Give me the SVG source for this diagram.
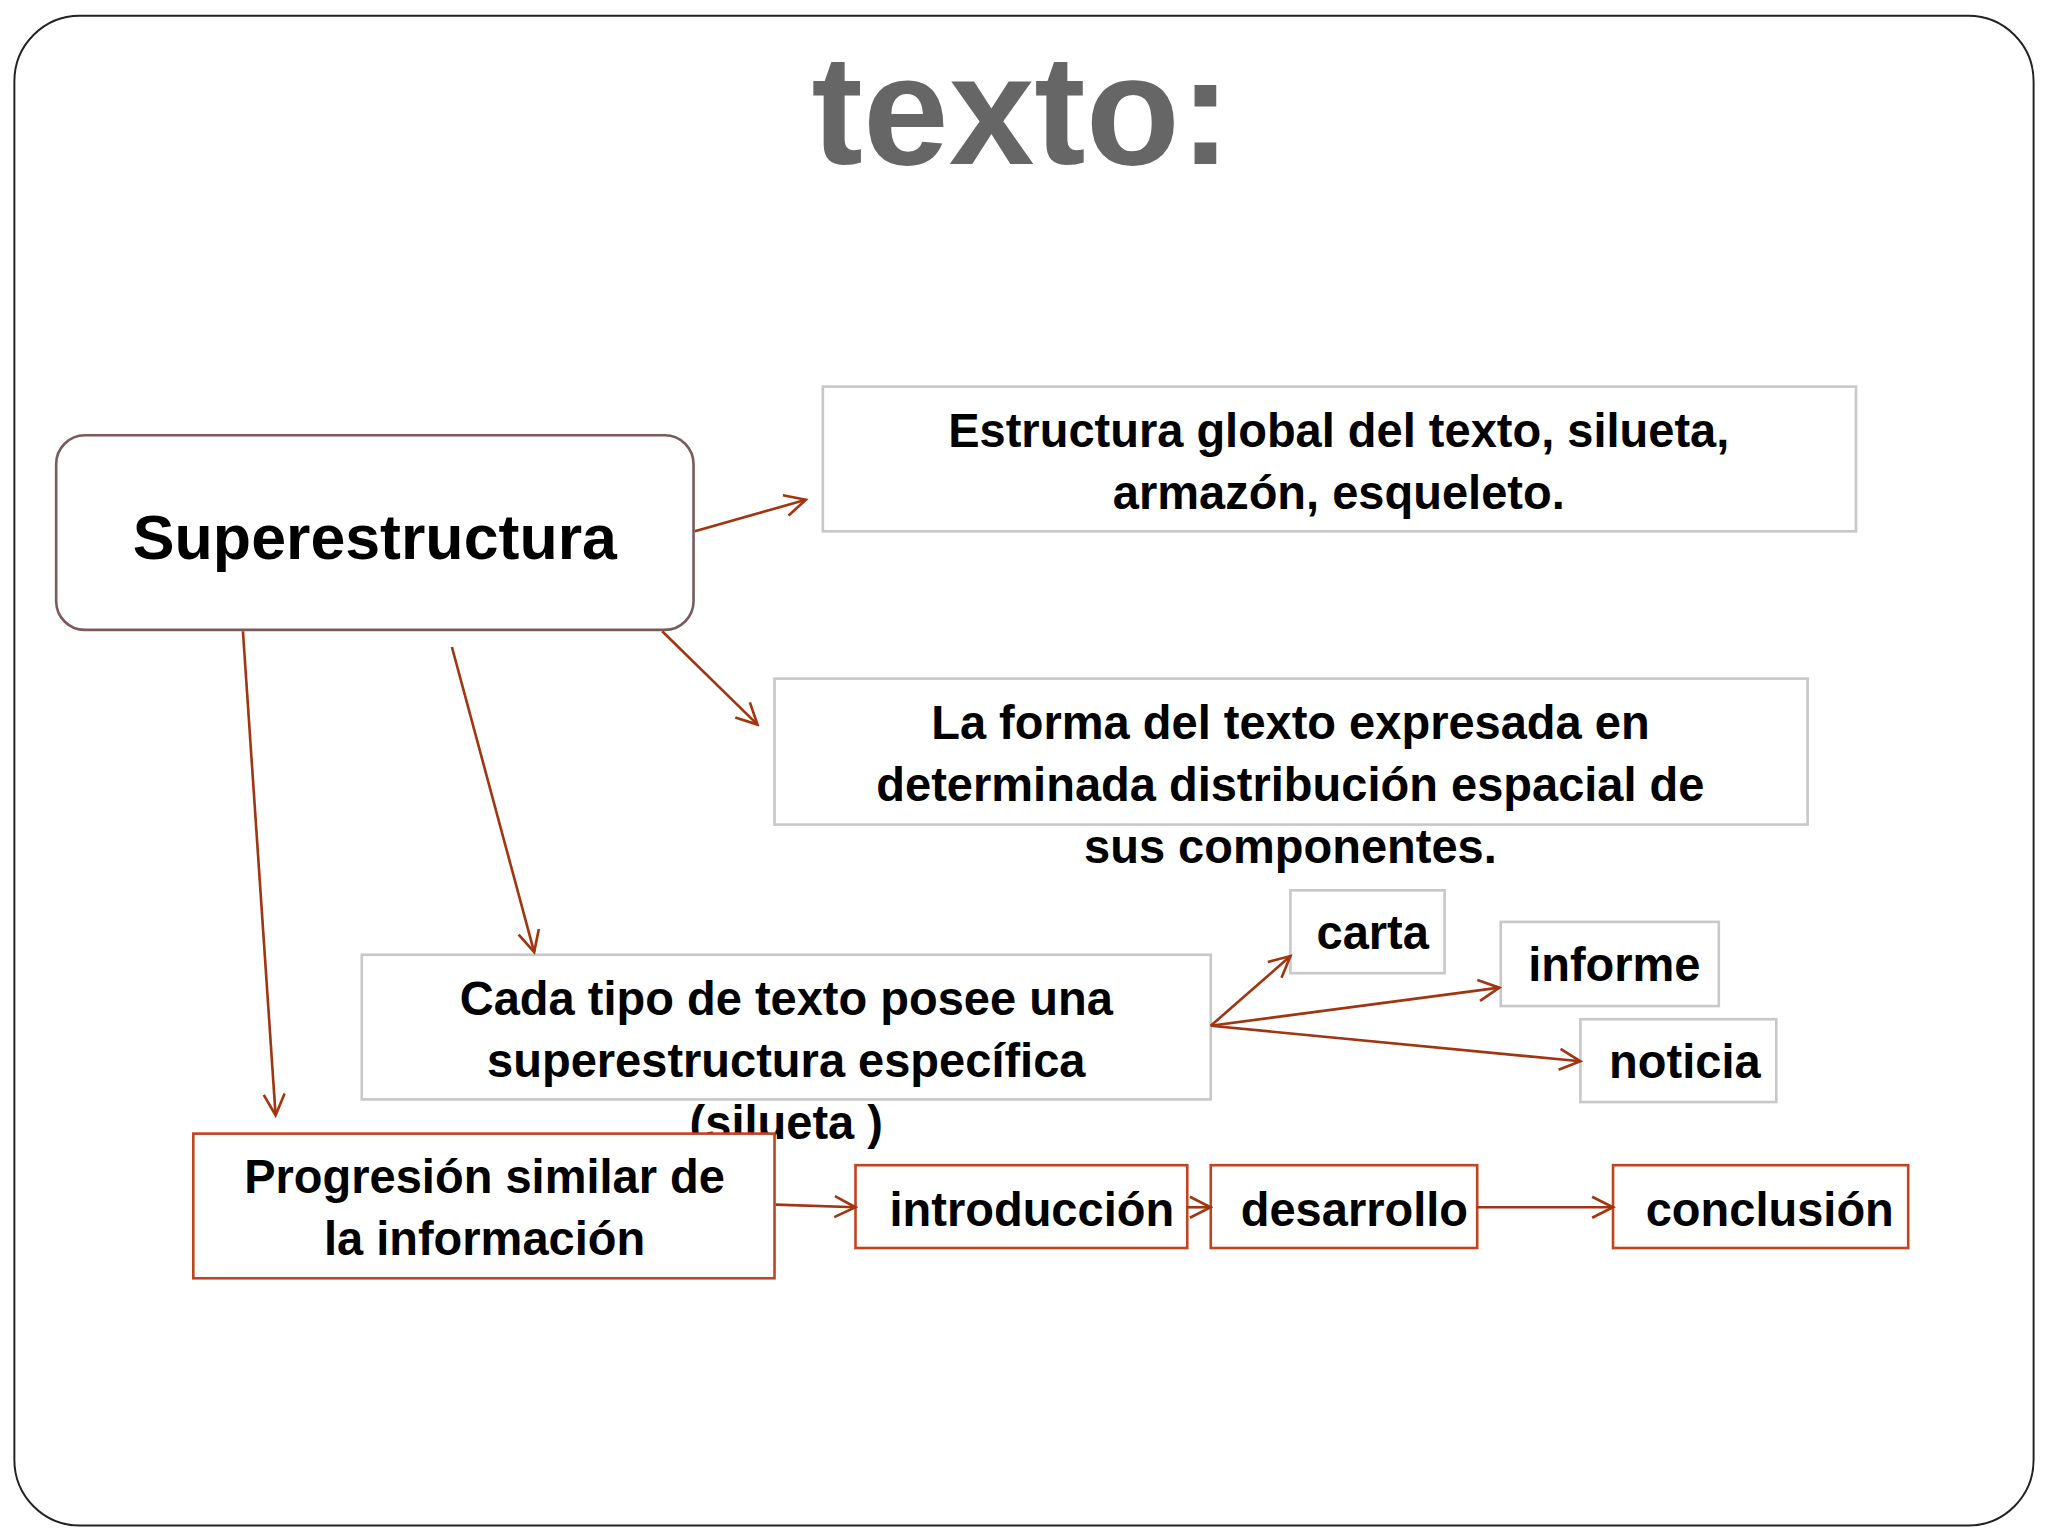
<svg xmlns="http://www.w3.org/2000/svg" width="2048" height="1536" viewBox="0 0 2048 1536">
<style>
text{font-family:"Liberation Sans",Arial,sans-serif;font-weight:bold;fill:#000;text-anchor:middle}
.t{font-size:36px}
.g{fill:#fff;stroke:#c8c8c8;stroke-width:2}
.r{fill:#fff;stroke:#c0451f;stroke-width:2}
.c{stroke:#a0350f;stroke-width:2;fill:none;marker-end:url(#a)}
</style>
<defs><marker id="a" viewBox="0 0 20 20" refX="18" refY="10" markerWidth="20" markerHeight="20" markerUnits="userSpaceOnUse" orient="auto"><path d="M2,2 L18,10 L2,18" fill="none" stroke="#a0350f" stroke-width="2"/></marker></defs>
<rect width="2048" height="1536" fill="#fff"/>
<g transform="scale(1.3061 1.3151)">
<rect x="11" y="12" width="1546" height="1148" rx="50" fill="#fff" stroke="#222" stroke-width="1.5"/>
<text x="782" y="125" style="font-size:118px;fill:#666">texto:</text>
<g id="superestructura"><rect x="43" y="331" width="488" height="148" rx="22" fill="#fff" stroke="#7a5a5e" stroke-width="2"/><text x="287" y="425" style="font-size:48px">Superestructura</text></g>
<g id="estructura"><rect class="g" x="630" y="294" width="791" height="110"/><text class="t" x="1025" y="340">Estructura global del texto, silueta,</text><text class="t" x="1025" y="387">armazón, esqueleto.</text></g>
<g id="forma"><rect class="g" x="593" y="516" width="791" height="111"/><text class="t" x="988" y="562">La forma del texto expresada en</text><text class="t" x="988" y="609">determinada distribución espacial de</text><text class="t" x="988" y="656">sus componentes.</text></g>
<g id="tipo"><rect class="g" x="277" y="726" width="650" height="110"/><text class="t" x="602" y="772">Cada tipo de texto posee una</text><text class="t" x="602" y="819">superestructura específica</text><text class="t" x="602" y="866">(silueta )</text></g>
<g id="carta"><rect class="g" x="988" y="677" width="118" height="63"/><text class="t" x="1051" y="722">carta</text></g>
<g id="informe"><rect class="g" x="1149" y="701" width="167" height="64"/><text class="t" x="1236" y="746">informe</text></g>
<g id="noticia"><rect class="g" x="1210" y="775" width="150" height="63"/><text class="t" x="1290" y="820">noticia</text></g>
<g id="progresion"><rect class="r" x="148" y="862" width="445" height="110"/><text class="t" x="371" y="907">Progresión similar de</text><text class="t" x="371" y="954">la información</text></g>
<g id="introduccion"><rect class="r" x="655" y="886" width="254" height="63"/><text class="t" x="790" y="932">introducción</text></g>
<g id="desarrollo"><rect class="r" x="927" y="886" width="204" height="63"/><text class="t" x="1037" y="932">desarrollo</text></g>
<g id="conclusion"><rect class="r" x="1235" y="886" width="226" height="63"/><text class="t" x="1355" y="932">conclusión</text></g>
<g id="connectors">
<line class="c" x1="532" y1="404" x2="617" y2="380"/>
<line class="c" x1="507" y1="480" x2="580" y2="551"/>
<line class="c" x1="346" y1="492" x2="409" y2="724"/>
<line class="c" x1="186" y1="480" x2="211" y2="848"/>
<line class="c" x1="927" y1="780" x2="988" y2="727"/>
<line class="c" x1="927" y1="780" x2="1148" y2="751"/>
<line class="c" x1="927" y1="780" x2="1210" y2="807"/>
<line class="c" x1="594" y1="916" x2="655" y2="918"/>
<line class="c" x1="909" y1="918" x2="927" y2="918"/>
<line class="c" x1="1131" y1="918" x2="1235" y2="918"/>
</g>
</g>
</svg>
